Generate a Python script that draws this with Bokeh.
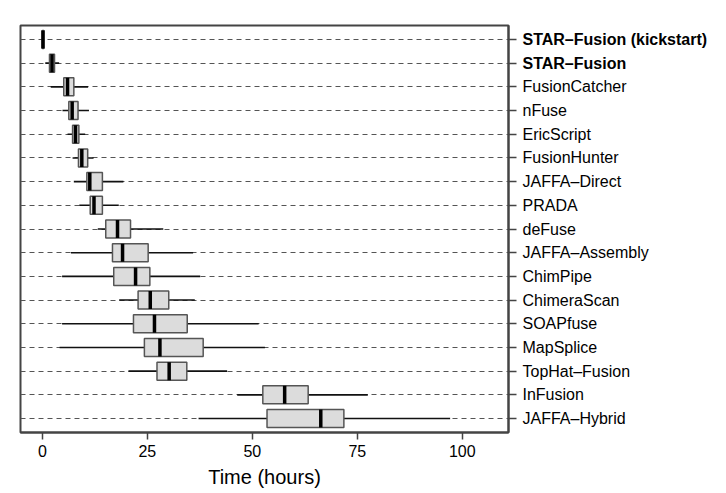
from bokeh.plotting import figure
from bokeh.models import Range1d, FixedTicker, ColumnDataSource
from bokeh.layouts import row
from bokeh.embed import file_html
from bokeh.resources import INLINE

methods = ["STAR\u2013Fusion (kickstart)", "STAR\u2013Fusion", "FusionCatcher", "nFuse",
           "EricScript", "FusionHunter", "JAFFA\u2013Direct", "PRADA", "deFuse",
           "JAFFA\u2013Assembly", "ChimPipe", "ChimeraScan", "SOAPfuse", "MapSplice",
           "TopHat\u2013Fusion", "InFusion", "JAFFA\u2013Hybrid"]
label_style = ["bold", "bold"] + ["normal"] * 15
whisker_lo = [0.0, 0.7, 2.0, 4.8, 6.0, 7.2, 7.5, 8.8, 13.2, 6.8, 4.7, 18.3, 4.7, 4.1, 20.5, 46.4, 37.2]
q1 =         [0.0, 1.7, 5.1, 6.3, 7.2, 8.6, 10.6, 11.4, 15.1, 16.7, 17.0, 22.8, 21.7, 24.3, 27.3, 52.5, 53.5]
median =     [0.15, 2.3, 6.0, 7.1, 7.9, 9.4, 11.3, 12.3, 17.9, 19.1, 22.2, 25.7, 26.7, 28.0, 30.2, 57.7, 66.3]
q3 =         [0.35, 2.9, 7.5, 8.5, 8.7, 10.8, 14.3, 14.3, 21.0, 25.2, 25.6, 30.1, 34.5, 38.3, 34.4, 63.3, 71.8]
whisker_hi = [0.4, 4.0, 10.9, 11.1, 10.2, 12.2, 19.3, 18.2, 28.8, 35.9, 37.6, 36.3, 51.5, 53.0, 44.0, 77.5, 97.1]
x_ticks = [0, 25, 50, 75, 100]

rows = list(range(1, len(methods) + 1))
half = 0.38
src = ColumnDataSource(dict(
    y=rows, lo=whisker_lo, q1=q1, med=median, q3=q3, hi=whisker_hi,
    ytop=[r - half for r in rows], ybot=[r + half for r in rows],
))
yr = Range1d(17.59, 0.41)

p = figure(width=521, height=493, output_backend="svg", toolbar_location=None,
           x_range=Range1d(-5.2, 111), y_range=yr,
           y_axis_location="right",
           min_border_left=20, min_border_top=25, min_border_right=13, min_border_bottom=61)
p.background_fill_color = "white"
p.border_fill_color = "white"
p.outline_line_color = "#444444"
p.outline_line_width = 2

# grid
p.xgrid.visible = False
p.ygrid.ticker = FixedTicker(ticks=rows)
p.ygrid.grid_line_color = "#555555"
p.ygrid.grid_line_dash = "5 4"
p.ygrid.grid_line_width = 1

# whiskers
p.segment(x0="lo", x1="q1", y0="y", y1="y", source=src, line_color="#111111", line_width=1.6)
p.segment(x0="q3", x1="hi", y0="y", y1="y", source=src, line_color="#111111", line_width=1.6)
# boxes
p.hbar(y="y", left="q1", right="q3", height=2 * half, source=src,
       fill_color="#dcdcdc", line_color="#555555", line_width=1.5)
# medians
p.segment(x0="med", x1="med", y0="ytop", y1="ybot", source=src, line_color="black", line_width=3.5)

# x axis
xa = p.xaxis[0]
xa.ticker = FixedTicker(ticks=x_ticks)
xa.axis_label = "Time (hours)"
xa.axis_label_text_font = "Liberation Sans"
xa.axis_label_text_font_size = "20px"
xa.axis_label_text_font_style = "normal"
xa.axis_label_text_color = "black"
xa.axis_label_standoff = 6
xa.major_label_text_font = "Liberation Sans"
xa.major_label_text_font_size = "16px"
xa.major_label_text_color = "black"
xa.major_label_standoff = 5
xa.major_tick_out = 7
xa.major_tick_in = 0
xa.minor_tick_out = 0
xa.minor_tick_in = 0
xa.major_tick_line_color = "#444444"
xa.major_tick_line_width = 1.5
xa.axis_line_color = "#444444"
xa.axis_line_width = 2

# right y axis: ticks only (labels drawn in the side panel so two can be bold)
ya = p.yaxis[0]
ya.ticker = FixedTicker(ticks=rows)
ya.major_label_overrides = {r: "" for r in rows}
ya.major_label_text_font_size = "1px"
ya.major_label_standoff = 0
ya.major_tick_out = 8
ya.major_tick_in = 0
ya.minor_tick_out = 0
ya.minor_tick_in = 0
ya.major_tick_line_color = "#444444"
ya.major_tick_line_width = 1.5
ya.axis_line_color = "#444444"
ya.axis_line_width = 2

# side panel with method labels
lab_src = ColumnDataSource(dict(y=rows, name=methods, style=label_style))
p2 = figure(width=205, height=493, output_backend="svg", toolbar_location=None,
            x_range=Range1d(0, 1), y_range=yr,
            min_border_left=0, min_border_top=25, min_border_right=0, min_border_bottom=61)
p2.axis.visible = False
p2.grid.visible = False
p2.outline_line_color = None
p2.background_fill_color = "white"
p2.border_fill_color = "white"
p2.text(x=0, y="y", text="name", source=lab_src, x_offset=1,
        text_align="left", text_baseline="middle",
        text_font={"value": "Liberation Sans"}, text_font_size="16px",
        text_font_style="style", text_color="black")

layout = row(p, p2)
open("out.html", "w").write(file_html(layout, INLINE))
